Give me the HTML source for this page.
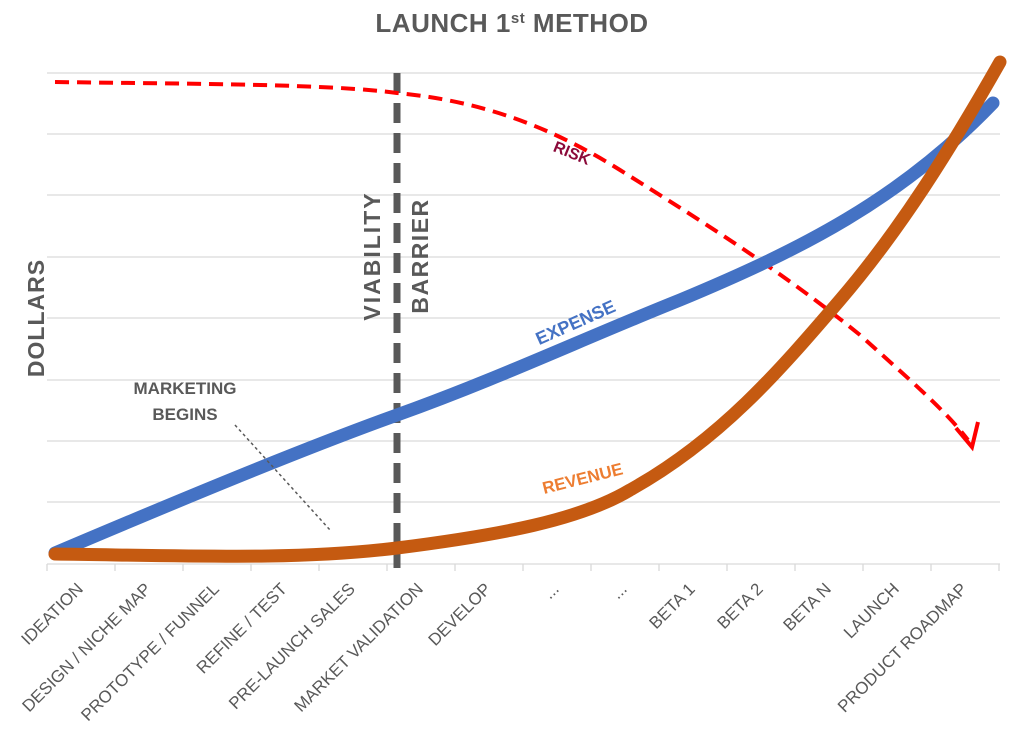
<!DOCTYPE html>
<html><head><meta charset="utf-8"><style>
html,body{margin:0;padding:0;background:#fff;}
svg{display:block;font-family:"Liberation Sans",sans-serif;}
</style></head><body>
<svg width="1024" height="737" viewBox="0 0 1024 737" xmlns="http://www.w3.org/2000/svg">
<g stroke="#d9d9d9" stroke-width="1.3">
<line x1="47" y1="73" x2="1000" y2="73"/>
<line x1="47" y1="134" x2="1000" y2="134"/>
<line x1="47" y1="195" x2="1000" y2="195"/>
<line x1="47" y1="257" x2="1000" y2="257"/>
<line x1="47" y1="318" x2="1000" y2="318"/>
<line x1="47" y1="380" x2="1000" y2="380"/>
<line x1="47" y1="441" x2="1000" y2="441"/>
<line x1="47" y1="502" x2="1000" y2="502"/>
<line x1="47" y1="564" x2="1000" y2="564"/>
</g>
<g stroke="#d9d9d9" stroke-width="1.3">
<line x1="47" y1="564" x2="47" y2="571"/><line x1="115" y1="564" x2="115" y2="571"/><line x1="183" y1="564" x2="183" y2="571"/><line x1="251" y1="564" x2="251" y2="571"/><line x1="319" y1="564" x2="319" y2="571"/><line x1="387" y1="564" x2="387" y2="571"/><line x1="455" y1="564" x2="455" y2="571"/><line x1="523" y1="564" x2="523" y2="571"/><line x1="591" y1="564" x2="591" y2="571"/><line x1="659" y1="564" x2="659" y2="571"/><line x1="727" y1="564" x2="727" y2="571"/><line x1="795" y1="564" x2="795" y2="571"/><line x1="863" y1="564" x2="863" y2="571"/><line x1="931" y1="564" x2="931" y2="571"/><line x1="999" y1="564" x2="999" y2="571"/>
</g>
<text x="512" y="32" text-anchor="middle" font-size="26" font-weight="bold" fill="#595959" letter-spacing="0.5">LAUNCH 1<tspan font-size="15" dy="-9">st</tspan><tspan dy="9"> METHOD</tspan></text>
<text transform="translate(44,318) rotate(-90)" text-anchor="middle" font-size="23" font-weight="bold" fill="#595959" letter-spacing="1">DOLLARS</text>
<text transform="translate(380,256) rotate(-90)" text-anchor="middle" font-size="23" font-weight="bold" fill="#595959" letter-spacing="2">VIABILITY</text>
<text transform="translate(428,256) rotate(-90)" text-anchor="middle" font-size="23" font-weight="bold" fill="#595959" letter-spacing="1.5">BARRIER</text>
<line x1="397" y1="73" x2="397" y2="568" stroke="#595959" stroke-width="7" stroke-dasharray="20,10"/>
<path d="M55,82 C200,84 330,84 397,93 C470,100 540,120 620,170 C700,220 780,270 860,335 C910,380 945,410 968,440" fill="none" stroke="#ff0000" stroke-width="4" stroke-dasharray="14,8"/>
<path d="M956,428 L972,447 L978,422" fill="none" stroke="#ff0000" stroke-width="4"/>
<path d="M55,553 C180,500 300,450 397,415 C500,378 580,340 680,300 C800,250 900,200 993,103" fill="none" stroke="#4472c4" stroke-width="13" stroke-linecap="round"/>
<path d="M55,554 C200,556 300,560 397,548 C500,535 580,520 630,490 C720,440 780,370 840,300 C900,230 950,150 1000,62" fill="none" stroke="#c55a11" stroke-width="13" stroke-linecap="round"/>
<line x1="235" y1="425" x2="330" y2="530" stroke="#595959" stroke-width="1.5" stroke-dasharray="3,3"/>
<text x="185" y="394" text-anchor="middle" font-size="17" font-weight="bold" fill="#595959">MARKETING</text>
<text x="185" y="420" text-anchor="middle" font-size="17" font-weight="bold" fill="#595959">BEGINS</text>
<text transform="translate(570,158) rotate(22)" text-anchor="middle" font-size="16" font-weight="bold" fill="#8b0a3a">RISK</text>
<text transform="translate(578,328) rotate(-24)" text-anchor="middle" font-size="18" font-weight="bold" fill="#4472c4">EXPENSE</text>
<text transform="translate(584,484) rotate(-14)" text-anchor="middle" font-size="17" font-weight="bold" fill="#ed7d31">REVENUE</text>
<g font-size="17" fill="#595959" text-anchor="end">
<text transform="translate(84,590) rotate(-45)">IDEATION</text>
<text transform="translate(152,590) rotate(-45)">DESIGN / NICHE MAP</text>
<text transform="translate(220,590) rotate(-45)">PROTOTYPE / FUNNEL</text>
<text transform="translate(288,590) rotate(-45)">REFINE / TEST</text>
<text transform="translate(356,590) rotate(-45)">PRE-LAUNCH SALES</text>
<text transform="translate(424,590) rotate(-45)">MARKET VALIDATION</text>
<text transform="translate(492,590) rotate(-45)">DEVELOP</text>
<text transform="translate(560,590) rotate(-45)">...</text>
<text transform="translate(628,590) rotate(-45)">...</text>
<text transform="translate(696,590) rotate(-45)">BETA 1</text>
<text transform="translate(764,590) rotate(-45)">BETA 2</text>
<text transform="translate(832,590) rotate(-45)">BETA N</text>
<text transform="translate(900,590) rotate(-45)">LAUNCH</text>
<text transform="translate(968,590) rotate(-45)">PRODUCT ROADMAP</text>
</g>
</svg>
</body></html>
